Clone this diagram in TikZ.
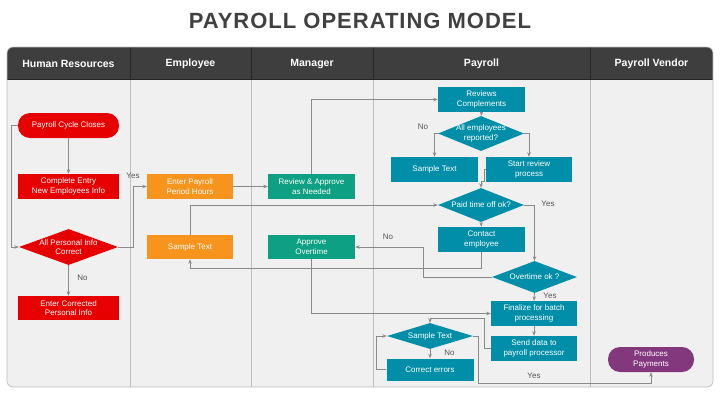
\documentclass[tikz,border=0pt]{standalone}
\usepackage{fontspec}
\setmainfont{Liberation Sans}
\newfontfamily\titlefont[LetterSpace=4.5]{Liberation Sans}
\usetikzlibrary{shapes.geometric,arrows.meta}
\definecolor{cred}{RGB}{230,0,0}
\definecolor{corange}{RGB}{247,148,29}
\definecolor{cgreen}{RGB}{14,160,130}
\definecolor{cteal}{RGB}{0,142,168}
\definecolor{cpurple}{RGB}{131,56,126}
\definecolor{chead}{RGB}{62,62,62}
\definecolor{cbody}{RGB}{240,240,240}
\definecolor{cline}{RGB}{138,138,138}
\definecolor{clane}{RGB}{190,190,190}
\definecolor{ctitle}{RGB}{64,64,64}
\definecolor{clbl}{RGB}{85,85,85}
\begin{document}
\begin{tikzpicture}[x=1pt,y=-1pt,
  nodefont/.style={font=\fontsize{8}{9.5}\selectfont},
  box/.style={rectangle, minimum width=86pt, minimum height=25pt, inner sep=1pt, text=white, nodefont, align=center},
  pill/.style={box, rounded corners=12pt},
  dia/.style={diamond, inner sep=0pt, minimum width=86pt, minimum height=34pt, fill=cteal},
  dlab/.style={text=white, nodefont, align=center, inner sep=0pt},
  arr/.style={draw=cline, line width=0.7pt, -{Stealth[length=4.5pt,width=3.5pt]}},
  lbl/.style={text=clbl, nodefont},
  hdr/.style={text=white, font=\bfseries\fontsize{10.5}{12}\selectfont},
  lane/.style={draw=clane, line width=0.7pt},
]
\useasboundingbox (0,0) rectangle (720,405);
\fill[white] (0,0) rectangle (720,405);

% title
\node[text=ctitle, font=\titlefont\bfseries\fontsize{22}{26}\selectfont] (title) at (360,20.5) {PAYROLL OPERATING MODEL};

% panel
\fill[cbody, rounded corners=6pt] (7,47) rectangle (713,387);
\begin{scope}
  \clip[rounded corners=6pt] (7,47) rectangle (713,387);
  \fill[chead] (7,47) rectangle (713,79);
\end{scope}
\foreach \xx in {130,251,373,590} {
  \draw[lane] (\xx,79) -- (\xx,387);
  \draw[black!85, line width=0.7pt] (\xx,47) -- (\xx,79);
}
\draw[black!85, line width=0.7pt] (7,79) -- (713,79);
\draw[draw=clane, line width=0.7pt, rounded corners=6pt] (7,47) rectangle (713,387);

\node[hdr] (h1) at (68.5,63.5) {Human Resources};
\node[hdr] (h2) at (190.5,63.5) {Employee};
\node[hdr] (h3) at (312,63.5) {Manager};
\node[hdr] (h4) at (481.5,63.5) {Payroll};
\node[hdr] (h5) at (651.5,63.5) {Payroll Vendor};

% nodes
\node[pill, fill=cred, minimum width=101pt] (pcc) at (68.5,125.5) {Payroll Cycle Closes};
\node[box, fill=cred, minimum width=101pt] (ce) at (68.5,186.5) {Complete Entry\\New Employees Info};
\node[dia, fill=cred, minimum width=99pt, minimum height=36pt, label={[dlab]center:All Personal Info\\Correct}] (ap) at (68.5,247) {};
\node[box, fill=cred, minimum width=101pt, minimum height=24pt] (ec) at (68.5,308) {Enter Corrected\\Personal Info};
\node[box, fill=corange] (ep) at (190,186.5) {Enter Payroll\\Period Hours};
\node[box, fill=corange, minimum height=24pt] (st2) at (190,247) {Sample Text};
\node[box, fill=cgreen, minimum width=87pt] (ra) at (311.5,186.5) {Review \& Approve\\as Needed};
\node[box, fill=cgreen, minimum width=87pt, minimum height=24pt] (ao) at (311.5,247) {Approve\\Overtime};
\node[box, fill=cteal, minimum width=87pt] (rc) at (481.5,99.5) {Reviews\\Complements};
\node[dia, minimum height=35pt, label={[dlab]center:All employees\\reported?}] (ae) at (481,133.5) {};
\node[box, fill=cteal, minimum width=87pt] (st1) at (434.5,169.5) {Sample Text};
\node[box, fill=cteal] (sr) at (529,169.5) {Start review\\process};
\node[dia, minimum height=34pt, label={[dlab]center:Paid time off ok?}] (pt) at (481,205) {};
\node[box, fill=cteal, minimum width=87pt] (co) at (481.5,239.5) {Contact\\employee};
\node[dia, minimum width=85pt, minimum height=32pt, label={[dlab]center:Overtime ok ?}] (ot) at (534.5,277) {};
\node[box, fill=cteal] (fb) at (534,313.5) {Finalize for batch\\processing};
\node[box, fill=cteal] (sd) at (534,348.5) {Send data to\\payroll processor};
\node[dia, minimum height=26pt, label={[dlab]center:Sample Text}] (sdia) at (430,336) {};
\node[box, fill=cteal, minimum width=87pt, minimum height=22pt] (cer) at (430,369.5) {Correct errors};
\node[pill, fill=cpurple] (pp) at (651,359.5) {Produces\\Payments};

% connectors
\draw[arr] (pcc.south) -- (ce.north);
\draw[arr] (pcc.west) -- ++(-6,0) |- (ap.west);
\draw[arr] (ap.east) -- ++(15,0) |- (ep.west);
\draw[arr] (ap.south) -- (ec.north);
\draw[arr] (ep.east) -- (ra.west);
\draw[arr] (ra.north) |- (rc.west);
\draw[arr] (rc.south) -- (ae.north);
\draw[arr] (ae.west) -| (st1.north);
\draw[arr] (ae.east) -| (sr.north);
\draw[arr] (sr.west) -- ++(-1.5,0) -- ++(0,11.5) -| (pt.north);
\draw[arr] (st2.north) |- (pt.west);
\draw[arr] (pt.south) -- (co.north);
\draw[arr] (pt.east) -| (ot.north);
\draw[arr] (co.south) -- ++(0,16) -| (st2.south);
\draw[arr] (ot.west) -- ++(-68,0) |- (ao.east);
\draw[arr] (ot.south) -- (fb.north);
\draw[arr] (ao.south) |- (fb.west);
\draw[arr] (fb.south) -- (sd.north);
\draw[arr] (sd.west) -- ++(-6,0) -- ++(0,-30) -| (sdia.north);
\draw[arr] (sdia.south) -- (cer.north);
\draw[arr] (cer.west) -- ++(-10,0) |- (sdia.west);
\draw[arr] (sdia.east) -- ++(5,0) -- ++(0,47) -| (pp.south);

% labels
\node[lbl] (l1) at (133,176) {Yes};
\node[lbl] (l2) at (82.5,278) {No};
\node[lbl] (l3) at (423,127) {No};
\node[lbl] (l4) at (548,204) {Yes};
\node[lbl] (l5) at (388,237) {No};
\node[lbl] (l6) at (550,296) {Yes};
\node[lbl] (l7) at (449.5,353) {No};
\node[lbl] (l8) at (534,376) {Yes};
\end{tikzpicture}
\end{document}
